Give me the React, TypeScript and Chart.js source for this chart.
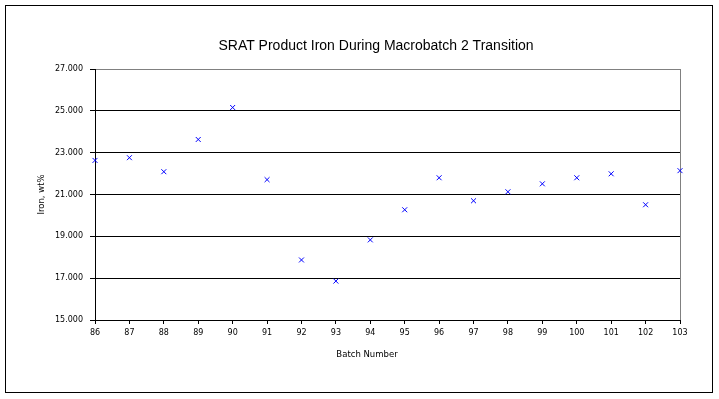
import React, { useEffect, useRef } from "react";
import { Chart, registerables } from "chart.js";

Chart.register(...registerables);

const chartTitle = "SRAT Product Iron During Macrobatch 2 Transition";
const xAxisTitle = "Batch Number";
const yAxisTitle = "Iron, wt%";

const batchNumbers = [86, 87, 88, 89, 90, 91, 92, 93, 94, 95, 96, 97, 98, 99, 100, 101, 102, 103];
const ironWt = [22.63, 22.76, 22.09, 23.63, 25.16, 21.71, 17.87, 16.86, 18.83, 20.27, 21.8, 20.7, 21.13, 21.51, 21.8, 21.99, 20.51, 22.14];

const xMin = 86;
const xMax = 103;
const yMin = 15;
const yMax = 27;
const yStep = 2;

export default function App() {
  const ref = useRef<HTMLCanvasElement | null>(null);

  useEffect(() => {
    if (!ref.current) return;
    const framePlugin = {
      id: "frameAndTitles",
      afterDraw(chart: any) {
        const ctx = chart.ctx;
        const area = chart.chartArea;
        ctx.save();
        ctx.strokeStyle = "#000";
        ctx.lineWidth = 1;
        ctx.strokeRect(5.5, 5.5, 707, 387);
        ctx.fillStyle = "#000";
        ctx.textAlign = "center";
        ctx.textBaseline = "middle";
        ctx.font = '14px "Liberation Sans"';
        ctx.fillText(chartTitle, 376, 46);
        ctx.font = '8.5px "DejaVu Sans"';
        ctx.fillText(xAxisTitle, 367, area.bottom + 35);
        ctx.restore();
      },
    };

    const chart = new Chart(ref.current, {
      type: "scatter",
      data: {
        datasets: [
          {
            label: "Iron",
            data: batchNumbers.map((b, i) => ({ x: b, y: ironWt[i] })),
            pointStyle: "crossRot",
            pointRadius: 3.5,
            pointBorderWidth: 1,
            borderColor: "#0000ff",
            backgroundColor: "#0000ff",
            clip: false,
          } as any,
        ],
      },
      options: {
        responsive: false,
        animation: false,
        layout: { padding: { top: 69, right: 39, bottom: 0, left: 0 } },
        plugins: {
          legend: { display: false },
          title: { display: false },
          tooltip: { enabled: false },
        },
        scales: {
          x: {
            type: "linear",
            min: xMin,
            max: xMax,
            afterFit: (s: any) => {
              s.height = 79;
            },
            ticks: {
              stepSize: 1,
              padding: 4,
              color: "#000",
              font: { family: "DejaVu Sans", size: 8 },
              maxRotation: 0,
              autoSkip: false,
            },
            grid: {
              color: (c: any) => (c.tick && c.tick.value === xMax ? "#808080" : "rgba(0,0,0,0)"),
              tickColor: "#000",
              tickLength: 4,
              lineWidth: 1,
            },
            border: { color: "#000", width: 1 },
          },
          y: {
            type: "linear",
            min: yMin,
            max: yMax,
            afterFit: (s: any) => {
              s.width = 95;
            },
            ticks: {
              stepSize: yStep,
              padding: 7,
              color: "#000",
              font: { family: "DejaVu Sans", size: 8 },
              callback: (v: any) => Number(v).toFixed(3),
            },
            grid: {
              color: (c: any) => (c.tick && c.tick.value === yMax ? "#808080" : "#000"),
              tickColor: "#000",
              tickLength: 5,
              lineWidth: 1,
            },
            border: { color: "#000", width: 1 },
            title: {
              display: true,
              text: yAxisTitle,
              color: "#000",
              font: { family: "DejaVu Sans", size: 8.5 },
              padding: { top: 37, bottom: 0 },
            },
          },
        },
      },
      plugins: [framePlugin],
    });
    return () => chart.destroy();
  }, []);

  return (
    <div style={{ position: "absolute", left: 0, top: 0, width: 719, height: 399, background: "#fff" }}>
      <canvas ref={ref} width={719} height={399} />
    </div>
  );
}
